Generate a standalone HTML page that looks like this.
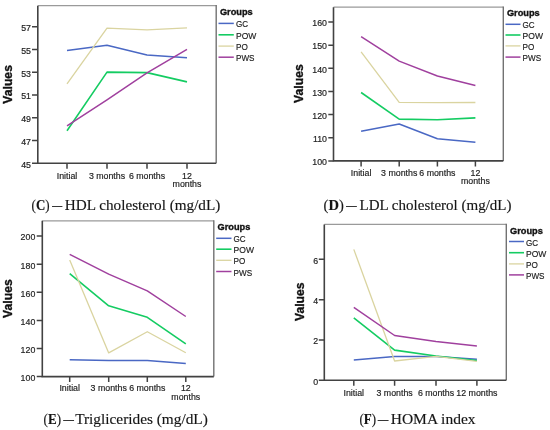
<!DOCTYPE html>
<html><head><meta charset="utf-8"><title>Figure</title>
<style>
html,body{margin:0;padding:0;background:#fff;}
body{width:550px;height:430px;overflow:hidden;}
svg{display:block;}
text{font-family:"Liberation Sans", Arial, sans-serif;fill:#1e1e1e;stroke:#1e1e1e;stroke-width:0.18px;}
text.cap{font-family:"Liberation Serif", "Times New Roman", serif;fill:#151515;stroke:#151515;stroke-width:0.15px;}
text.hv{fill:#111;stroke:#111;stroke-width:0.35px;}
</style></head>
<body>
<svg width="550" height="430" viewBox="0 0 550 430">
<rect width="550" height="430" fill="#fff"/>
<path d="M37.8 5.7H216.2" fill="none" stroke="#9a9a9a" stroke-width="1.2"/>
<path d="M216.2 5.1V163.3" fill="none" stroke="#727272" stroke-width="1.4"/>
<polyline points="67,50.5 107,45.2 147,55 187,57.8" fill="none" stroke="#4a68c4" stroke-width="1.5" stroke-linejoin="round"/>
<polyline points="67,130.7 107,72.1 147,72.6 187,81.9" fill="none" stroke="#14cc62" stroke-width="1.6" stroke-linejoin="round"/>
<polyline points="67,83.8 107,28.1 147,29.8 187,27.8" fill="none" stroke="#dad4a0" stroke-width="1.3" stroke-linejoin="round"/>
<polyline points="67,125.8 107,99.8 147,72.9 187,49.3" fill="none" stroke="#a0409e" stroke-width="1.5" stroke-linejoin="round"/>
<path d="M37.8 5.7V163.3H216.2" fill="none" stroke="#424242" stroke-width="1.6"/>
<path d="M32 163.3H37.8M32 140.56H37.8M32 117.82H37.8M32 95.08H37.8M32 72.34H37.8M32 49.6H37.8M32 26.86H37.8M67 163.3V168.8M107 163.3V168.8M147 163.3V168.8M187 163.3V168.8" stroke="#424242" stroke-width="1.5"/>
<text x="31" y="167.6" text-anchor="end" font-size="8.8">45</text>
<text x="31" y="144.86" text-anchor="end" font-size="8.8">47</text>
<text x="31" y="122.12" text-anchor="end" font-size="8.8">49</text>
<text x="31" y="99.38" text-anchor="end" font-size="8.8">51</text>
<text x="31" y="76.64" text-anchor="end" font-size="8.8">53</text>
<text x="31" y="53.9" text-anchor="end" font-size="8.8">55</text>
<text x="31" y="31.16" text-anchor="end" font-size="8.8">57</text>
<text x="67" y="178.6" text-anchor="middle" font-size="8.8">Initial</text>
<text x="107" y="178.6" text-anchor="middle" font-size="8.8">3 months</text>
<text x="147" y="178.6" text-anchor="middle" font-size="8.8">6 months</text>
<text x="187" y="178.6" text-anchor="middle" font-size="8.8">12</text>
<text x="187" y="186.6" text-anchor="middle" font-size="8.8">months</text>
<text x="219.9" y="15" font-size="9.3" font-weight="bold" class="hv" textLength="32.8" lengthAdjust="spacingAndGlyphs">Groups</text>
<path d="M218.5 23.4H233.8" stroke="#4a68c4" stroke-width="1.5"/>
<text x="236" y="27.4" font-size="9.4" textLength="12.1" lengthAdjust="spacingAndGlyphs">GC</text>
<path d="M218.5 34.8H233.8" stroke="#14cc62" stroke-width="1.6"/>
<text x="236" y="38.8" font-size="9.4" textLength="20.4" lengthAdjust="spacingAndGlyphs">POW</text>
<path d="M218.5 46.1H233.8" stroke="#dad4a0" stroke-width="1.3"/>
<text x="236" y="50.1" font-size="9.4" textLength="11.8" lengthAdjust="spacingAndGlyphs">PO</text>
<path d="M218.5 57.2H233.8" stroke="#a0409e" stroke-width="1.5"/>
<text x="236" y="61.2" font-size="9.4" textLength="18.5" lengthAdjust="spacingAndGlyphs">PWS</text>
<text transform="translate(7.4 84.4) rotate(-90)" y="4.3" text-anchor="middle" font-size="12.2" font-weight="bold" class="hv">Values</text>
<text class="cap" x="31.6" y="210" font-size="15.2" textLength="18" lengthAdjust="spacingAndGlyphs">(<tspan font-weight="bold">C</tspan>)</text>
<text class="cap" x="52.2" y="210" font-size="15.2" textLength="9.8" lengthAdjust="spacingAndGlyphs">–</text>
<text class="cap" x="64.8" y="210" font-size="15.2" textLength="155.5" lengthAdjust="spacingAndGlyphs">HDL cholesterol (mg/dL)</text>
<path d="M333.5 7.2H503.3" fill="none" stroke="#9a9a9a" stroke-width="1.2"/>
<path d="M503.3 6.6V160.9" fill="none" stroke="#727272" stroke-width="1.4"/>
<polyline points="361.1,131.3 399.2,124 437.4,138.8 475.4,142.3" fill="none" stroke="#4a68c4" stroke-width="1.5" stroke-linejoin="round"/>
<polyline points="361.1,92.5 399.2,119.1 437.4,119.8 475.4,117.9" fill="none" stroke="#14cc62" stroke-width="1.6" stroke-linejoin="round"/>
<polyline points="361.1,51.9 399.2,102.3 437.4,102.6 475.4,102.5" fill="none" stroke="#dad4a0" stroke-width="1.3" stroke-linejoin="round"/>
<polyline points="361.1,36.7 399.2,61.1 437.4,76 475.4,85.6" fill="none" stroke="#a0409e" stroke-width="1.5" stroke-linejoin="round"/>
<path d="M333.5 7.2V160.9H503.3" fill="none" stroke="#424242" stroke-width="1.6"/>
<path d="M328.3 160.9H333.5M328.3 137.75H333.5M328.3 114.6H333.5M328.3 91.45H333.5M328.3 68.3H333.5M328.3 45.15H333.5M328.3 22H333.5M361.1 160.9V166.4M399.2 160.9V166.4M437.4 160.9V166.4M475.4 160.9V166.4" stroke="#424242" stroke-width="1.5"/>
<text x="327" y="165.2" text-anchor="end" font-size="8.8">100</text>
<text x="327" y="142.05" text-anchor="end" font-size="8.8">110</text>
<text x="327" y="118.9" text-anchor="end" font-size="8.8">120</text>
<text x="327" y="95.75" text-anchor="end" font-size="8.8">130</text>
<text x="327" y="72.6" text-anchor="end" font-size="8.8">140</text>
<text x="327" y="49.45" text-anchor="end" font-size="8.8">150</text>
<text x="327" y="26.3" text-anchor="end" font-size="8.8">160</text>
<text x="361.1" y="175.9" text-anchor="middle" font-size="8.8">Initial</text>
<text x="399.2" y="175.9" text-anchor="middle" font-size="8.8">3 months</text>
<text x="437.4" y="175.9" text-anchor="middle" font-size="8.8">6 months</text>
<text x="475.4" y="175.9" text-anchor="middle" font-size="8.8">12</text>
<text x="475.4" y="183.8" text-anchor="middle" font-size="8.8">months</text>
<text x="506.9" y="16.2" font-size="9.3" font-weight="bold" class="hv" textLength="32.8" lengthAdjust="spacingAndGlyphs">Groups</text>
<path d="M505.5 24.3H520.5" stroke="#4a68c4" stroke-width="1.5"/>
<text x="522.6" y="28.3" font-size="9.4" textLength="12.1" lengthAdjust="spacingAndGlyphs">GC</text>
<path d="M505.5 35H520.5" stroke="#14cc62" stroke-width="1.6"/>
<text x="522.6" y="39" font-size="9.4" textLength="20.4" lengthAdjust="spacingAndGlyphs">POW</text>
<path d="M505.5 45.9H520.5" stroke="#dad4a0" stroke-width="1.3"/>
<text x="522.6" y="49.9" font-size="9.4" textLength="11.8" lengthAdjust="spacingAndGlyphs">PO</text>
<path d="M505.5 57.1H520.5" stroke="#a0409e" stroke-width="1.5"/>
<text x="522.6" y="61.1" font-size="9.4" textLength="18.5" lengthAdjust="spacingAndGlyphs">PWS</text>
<text transform="translate(298.8 83.6) rotate(-90)" y="4.3" text-anchor="middle" font-size="12.2" font-weight="bold" class="hv">Values</text>
<text class="cap" x="323.6" y="210" font-size="15.2" textLength="20.2" lengthAdjust="spacingAndGlyphs">(<tspan font-weight="bold">D</tspan>)</text>
<text class="cap" x="346.2" y="210" font-size="15.2" textLength="10.3" lengthAdjust="spacingAndGlyphs">–</text>
<text class="cap" x="359.5" y="210" font-size="15.2" textLength="152" lengthAdjust="spacingAndGlyphs">LDL cholesterol (mg/dL)</text>
<path d="M42.3 220.8H213.8" fill="none" stroke="#9a9a9a" stroke-width="1.2"/>
<path d="M213.8 220.2V376.6" fill="none" stroke="#727272" stroke-width="1.4"/>
<polyline points="69.7,359.7 108.7,360.6 147.3,360.5 185.8,363.4" fill="none" stroke="#4a68c4" stroke-width="1.5" stroke-linejoin="round"/>
<polyline points="69.7,273.6 108.7,305.8 147.3,317.3 185.8,343.9" fill="none" stroke="#14cc62" stroke-width="1.6" stroke-linejoin="round"/>
<polyline points="69.7,260.1 108.7,352.9 147.3,331.7 185.8,352.8" fill="none" stroke="#dad4a0" stroke-width="1.3" stroke-linejoin="round"/>
<polyline points="69.7,254.4 108.7,274.1 147.3,290.9 185.8,316.5" fill="none" stroke="#a0409e" stroke-width="1.5" stroke-linejoin="round"/>
<path d="M42.3 220.8V376.6H213.8" fill="none" stroke="#424242" stroke-width="1.6"/>
<path d="M36.7 376.6H42.3M36.7 348.5H42.3M36.7 320.4H42.3M36.7 292.3H42.3M36.7 264.2H42.3M36.7 236.1H42.3M69.7 376.6V382.1M108.7 376.6V382.1M147.3 376.6V382.1M185.8 376.6V382.1" stroke="#424242" stroke-width="1.5"/>
<text x="35.3" y="380.9" text-anchor="end" font-size="8.8">100</text>
<text x="35.3" y="352.8" text-anchor="end" font-size="8.8">120</text>
<text x="35.3" y="324.7" text-anchor="end" font-size="8.8">140</text>
<text x="35.3" y="296.6" text-anchor="end" font-size="8.8">160</text>
<text x="35.3" y="268.5" text-anchor="end" font-size="8.8">180</text>
<text x="35.3" y="240.4" text-anchor="end" font-size="8.8">200</text>
<text x="69.7" y="391.4" text-anchor="middle" font-size="8.8">Initial</text>
<text x="108.7" y="391.4" text-anchor="middle" font-size="8.8">3 months</text>
<text x="147.3" y="391.4" text-anchor="middle" font-size="8.8">6 months</text>
<text x="185.8" y="391.4" text-anchor="middle" font-size="8.8">12</text>
<text x="185.8" y="399.7" text-anchor="middle" font-size="8.8">months</text>
<text x="217.6" y="229.9" font-size="9.3" font-weight="bold" class="hv" textLength="32.8" lengthAdjust="spacingAndGlyphs">Groups</text>
<path d="M216.2 238.3H231.5" stroke="#4a68c4" stroke-width="1.5"/>
<text x="233.6" y="242.3" font-size="9.4" textLength="12.1" lengthAdjust="spacingAndGlyphs">GC</text>
<path d="M216.2 249.2H231.5" stroke="#14cc62" stroke-width="1.6"/>
<text x="233.6" y="253.2" font-size="9.4" textLength="20.4" lengthAdjust="spacingAndGlyphs">POW</text>
<path d="M216.2 260.3H231.5" stroke="#dad4a0" stroke-width="1.3"/>
<text x="233.6" y="264.3" font-size="9.4" textLength="11.8" lengthAdjust="spacingAndGlyphs">PO</text>
<path d="M216.2 271.5H231.5" stroke="#a0409e" stroke-width="1.5"/>
<text x="233.6" y="275.5" font-size="9.4" textLength="18.5" lengthAdjust="spacingAndGlyphs">PWS</text>
<text transform="translate(7.45 298.6) rotate(-90)" y="4.3" text-anchor="middle" font-size="12.2" font-weight="bold" class="hv">Values</text>
<text class="cap" x="43.6" y="424.2" font-size="15.2" textLength="17.4" lengthAdjust="spacingAndGlyphs">(<tspan font-weight="bold">E</tspan>)</text>
<text class="cap" x="63.5" y="424.2" font-size="15.2" textLength="10.3" lengthAdjust="spacingAndGlyphs">–</text>
<text class="cap" x="75.2" y="424.2" font-size="15.2" textLength="132.6" lengthAdjust="spacingAndGlyphs">Triglicerides (mg/dL)</text>
<path d="M324.3 224.4H506.3" fill="none" stroke="#9a9a9a" stroke-width="1.2"/>
<path d="M506.3 223.8V380.3" fill="none" stroke="#727272" stroke-width="1.4"/>
<polyline points="353.8,359.9 394.6,356.5 436,356.5 476.9,359.3" fill="none" stroke="#4a68c4" stroke-width="1.5" stroke-linejoin="round"/>
<polyline points="353.8,317.9 394.6,350.1 436,356 476.9,360.5" fill="none" stroke="#14cc62" stroke-width="1.6" stroke-linejoin="round"/>
<polyline points="353.8,249.4 394.6,361 436,356.4 476.9,361.4" fill="none" stroke="#dad4a0" stroke-width="1.3" stroke-linejoin="round"/>
<polyline points="353.8,307.3 394.6,335.5 436,341.5 476.9,345.9" fill="none" stroke="#a0409e" stroke-width="1.5" stroke-linejoin="round"/>
<path d="M324.3 224.4V380.3H506.3" fill="none" stroke="#424242" stroke-width="1.6"/>
<path d="M318.8 380.3H324.3M318.8 339.97H324.3M318.8 299.64H324.3M318.8 259.31H324.3M353.8 380.3V385.8M394.6 380.3V385.8M436 380.3V385.8M476.9 380.3V385.8" stroke="#424242" stroke-width="1.5"/>
<text x="318.1" y="384.6" text-anchor="end" font-size="8.8">0</text>
<text x="318.1" y="344.27" text-anchor="end" font-size="8.8">2</text>
<text x="318.1" y="303.94" text-anchor="end" font-size="8.8">4</text>
<text x="318.1" y="263.61" text-anchor="end" font-size="8.8">6</text>
<text x="353.8" y="395.9" text-anchor="middle" font-size="8.8">Initial</text>
<text x="394.6" y="395.9" text-anchor="middle" font-size="8.8">3 months</text>
<text x="436" y="395.9" text-anchor="middle" font-size="8.8">6 months</text>
<text x="476.9" y="395.9" text-anchor="middle" font-size="8.8">12 months</text>
<text x="510.1" y="233.6" font-size="9.3" font-weight="bold" class="hv" textLength="32.8" lengthAdjust="spacingAndGlyphs">Groups</text>
<path d="M509 241.5H524" stroke="#4a68c4" stroke-width="1.5"/>
<text x="526" y="245.5" font-size="9.4" textLength="12.1" lengthAdjust="spacingAndGlyphs">GC</text>
<path d="M509 252.7H524" stroke="#14cc62" stroke-width="1.6"/>
<text x="526" y="256.7" font-size="9.4" textLength="20.4" lengthAdjust="spacingAndGlyphs">POW</text>
<path d="M509 263.9H524" stroke="#dad4a0" stroke-width="1.3"/>
<text x="526" y="267.9" font-size="9.4" textLength="11.8" lengthAdjust="spacingAndGlyphs">PO</text>
<path d="M509 274.9H524" stroke="#a0409e" stroke-width="1.5"/>
<text x="526" y="278.9" font-size="9.4" textLength="18.5" lengthAdjust="spacingAndGlyphs">PWS</text>
<text transform="translate(299.4 301.7) rotate(-90)" y="4.3" text-anchor="middle" font-size="12.2" font-weight="bold" class="hv">Values</text>
<text class="cap" x="359.4" y="424.4" font-size="15.2" textLength="16.6" lengthAdjust="spacingAndGlyphs">(<tspan font-weight="bold">F</tspan>)</text>
<text class="cap" x="378.1" y="424.4" font-size="15.2" textLength="10.2" lengthAdjust="spacingAndGlyphs">–</text>
<text class="cap" x="390.7" y="424.4" font-size="15.2" textLength="84.9" lengthAdjust="spacingAndGlyphs">HOMA index</text>
</svg>
</body></html>
